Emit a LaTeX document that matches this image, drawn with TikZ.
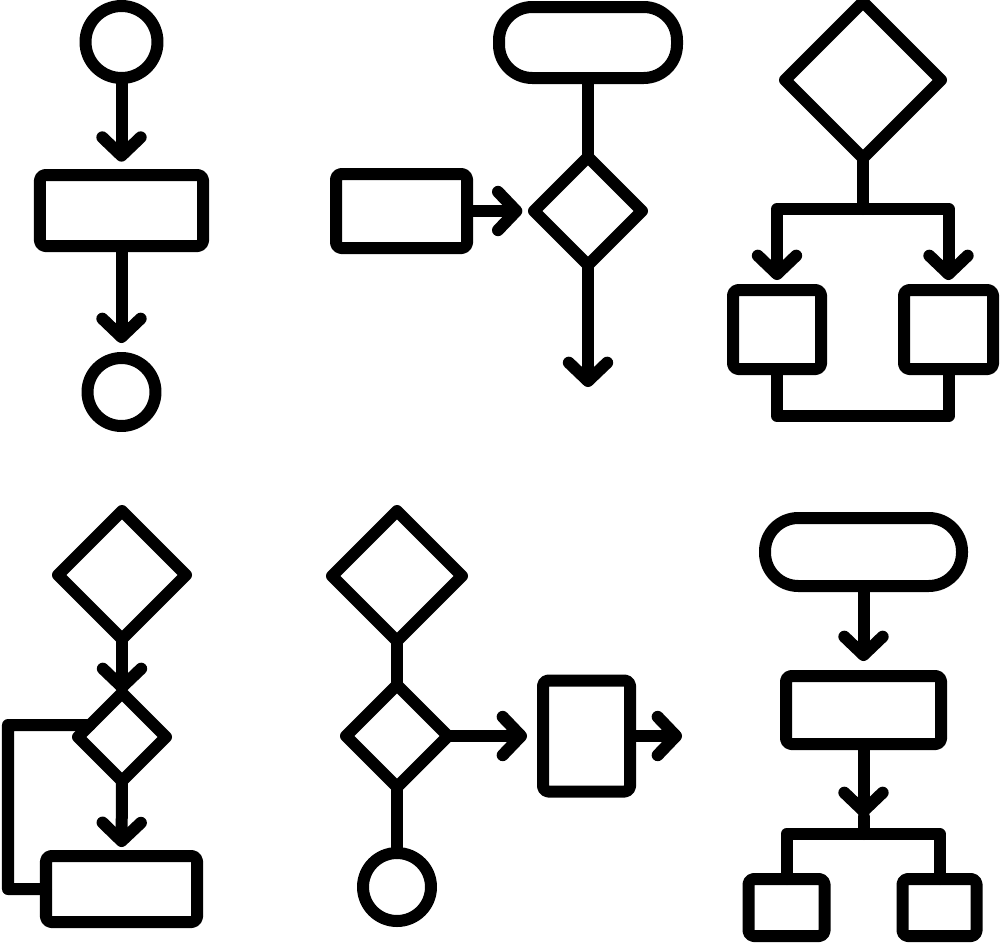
\documentclass[tikz,border=0pt]{standalone}
\usetikzlibrary{shapes.geometric,arrows.meta,calc}
\begin{document}
\begin{tikzpicture}[x=0.3mm,y=-0.3mm,
  ln/.style={line width=3.6mm, line join=round, line cap=round, draw=black},
  box/.style={ln, fill=white, rectangle, rounded corners=1.5mm, inner sep=0pt, outer sep=0pt},
  term/.style={ln, fill=white, rectangle, rounded corners=10mm, inner sep=0pt, outer sep=0pt},
  circ/.style={ln, fill=white, circle, inner sep=0pt, outer sep=0pt},
  dec/.style={ln, fill=white, diamond, inner sep=0pt, outer sep=0pt},
  arr/.style={ln, -{Straight Barb[round, length=5.5mm, width=11.5mm]}},
  conn/.style={ln}]
\fill[white] (0,0) rectangle (1000,948);
\useasboundingbox (0,0) rectangle (1000,948);

% ---------- panel 1 ----------
\node[circ, minimum size=21.6mm] (c1) at (121.5,42) {};
\node[box, minimum width=48.9mm, minimum height=21.3mm] (r1) at (121.5,210.5) {};
\node[circ, minimum size=20.4mm] (c2) at (121.5,392) {};
\draw[arr, shorten >=4mm] (c1.south) -- (r1.north);
\draw[arr, shorten >=4.5mm] (r1.south) -- (c2.north);

% ---------- panel 2 ----------
\node[term, minimum width=53.4mm, minimum height=21.3mm] (t2) at (588,42.5) {};
\node[dec, minimum size=32.4mm] (d2) at (588,211) {};
\node[box, minimum width=39.3mm, minimum height=22.2mm] (r2) at (401.5,211) {};
\coordinate (e2) at (588,387);
\draw[conn] (t2.south) -- (d2.north);
\draw[arr, shorten >=3.5mm] (r2.east) -- (d2.west);
\draw[arr] (d2.south) -- (e2);

% ---------- panel 3 ----------
\node[dec, minimum size=46.8mm] (d3) at (863,80) {};
\coordinate (j3) at (863,209);
\node[box, minimum width=26.4mm, minimum height=23.7mm] (b3l) at (777,329.5) {};
\node[box, minimum width=26.7mm, minimum height=23.7mm] (b3r) at (948.5,329.5) {};
\draw[conn] (d3.south) -- (j3);
\draw[arr, shorten >=3mm] (j3) -| (b3l.north);
\draw[arr, shorten >=3mm] (j3) -| (b3r.north);
\draw[conn] (b3l.south) -- ++(0,47) -| (b3r.south);

% ---------- panel 4 ----------
\node[dec, minimum size=38.4mm] (d4a) at (122,575) {};
\node[dec, minimum size=26.4mm] (d4b) at (122,737) {};
\node[box, minimum width=45.3mm, minimum height=19.8mm] (r4) at (121.5,889) {};
\coordinate (p4) at ($(d4b.west)!0.27!(d4b.north)$);
\coordinate (l4) at (8,725);
\draw[arr] (d4a.south) -- (d4b.north);
\draw[arr, shorten >=2.7mm] (d4b.south) -- (r4.north);
\draw[conn] (p4) -- (l4) |- (r4.west);

% ---------- panel 5 ----------
\node[dec, minimum size=39mm] (d5a) at (397,576) {};
\node[dec, minimum size=30.6mm] (d5b) at (397,736) {};
\node[circ, minimum size=20.4mm] (c5) at (397,887) {};
\node[box, minimum width=26.1mm, minimum height=33.3mm] (r5) at (586.5,736) {};
\coordinate (e5) at (682,736);
\draw[conn] (d5a.south) -- (d5b.north);
\draw[conn] (d5b.south) -- (c5.north);
\draw[arr, shorten >=4.8mm] (d5b.east) -- (r5.west);
\draw[arr] (r5.east) -- (e5);

% ---------- panel 6 ----------
\node[term, minimum width=59.1mm, minimum height=20.4mm] (t6) at (863.5,552) {};
\node[box, minimum width=46.5mm, minimum height=20.4mm] (r6) at (863.5,710) {};
\coordinate (a6) at (863.5,817);
\coordinate (j6) at (863.5,834);
\node[box, minimum width=22.8mm, minimum height=17.1mm] (b6l) at (786.5,907.5) {};
\node[box, minimum width=22.2mm, minimum height=17.1mm] (b6r) at (939.5,907.5) {};
\draw[arr, shorten >=4.5mm] (t6.south) -- (r6.north);
\draw[arr] (r6.south) -- (a6);
\draw[conn] (a6) -- (j6);
\draw[conn] (j6) -| (b6l.north);
\draw[conn] (j6) -| (b6r.north);
\end{tikzpicture}
\end{document}
